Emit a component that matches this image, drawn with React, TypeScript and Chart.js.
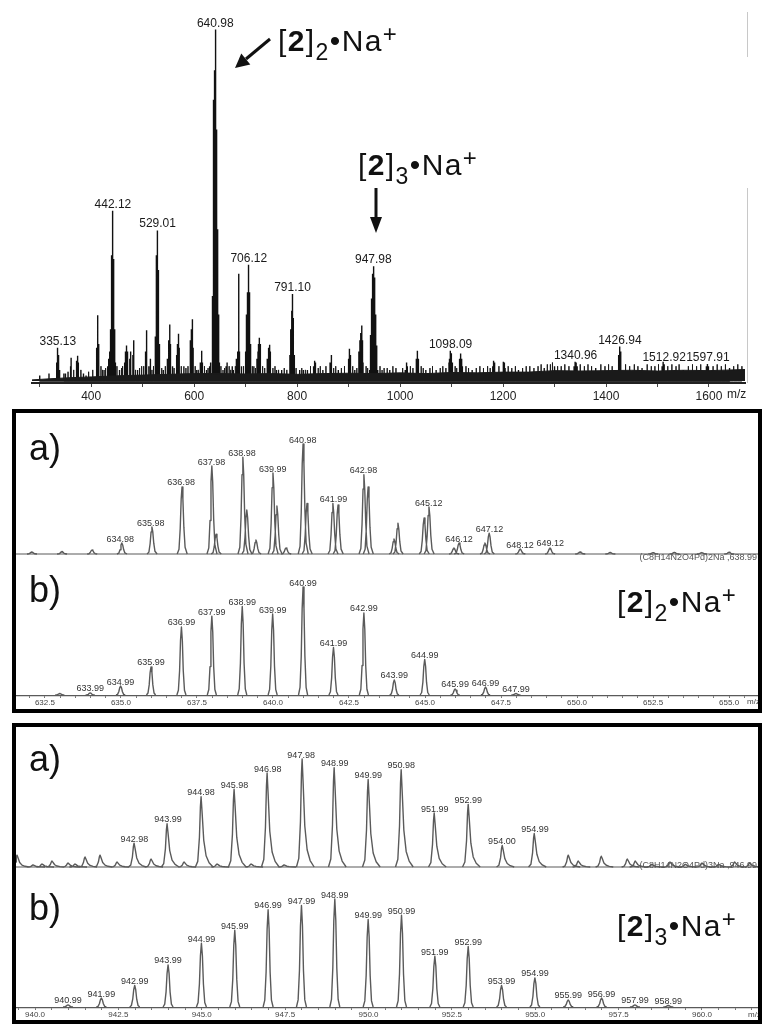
import React, { useEffect, useRef } from "react";
import { Chart, registerables } from "chart.js";

Chart.register(...registerables);

const FONT = "'Liberation Sans', Arial, Helvetica, sans-serif";

// ================= Survey ESI-MS spectrum (top) =================
const surveyMz = [
  300, 318, 333, 334, 335, 336, 337, 338, 339, 350, 360, 361, 371, 372, 373, 374, 375, 385, 390,
  410, 411, 412, 413, 414, 415, 425, 432, 434, 436, 437, 438, 439, 440, 441, 442, 443, 444, 445, 446, 447,
  455, 465, 466, 467, 468, 469, 470, 471, 475, 476, 477, 481, 482, 483, 490,
  505, 506, 507, 508, 512, 515, 524, 525, 526, 527, 528, 529, 530, 531, 532, 533, 540,
  548, 550, 551, 552, 553, 554, 558, 566, 567, 568, 569, 570, 571, 580,
  592, 593, 594, 595, 596, 597, 598, 605, 612, 614, 615, 616, 624, 630, 632,
  635, 636, 637, 638, 639, 640, 641, 642, 643, 644, 645, 646, 647, 648, 649,
  656, 662, 664, 674, 676, 682, 684, 685, 686, 687, 688, 692,
  700, 701, 702, 703, 704, 705, 706, 707, 708, 709, 710, 716,
  722, 724, 725, 726, 727, 728, 729, 742, 744, 745, 746, 747, 748, 760, 770,
  786, 787, 788, 789, 790, 791, 792, 793, 794, 795, 805, 812, 820,
  832, 834, 835, 836, 850, 864, 866, 867, 880, 900, 901, 902, 903, 904, 912,
  920, 922, 923, 924, 925, 926, 927, 928,
  941, 942, 943, 944, 945, 946, 947, 948, 949, 950, 951, 952, 953, 954, 955, 956, 957, 965, 980,
  1010, 1012, 1013, 1014, 1031, 1032, 1033, 1034, 1035, 1036, 1050, 1070,
  1095, 1096, 1097, 1098, 1099, 1100, 1101, 1102, 1115, 1116, 1117, 1118, 1119, 1120, 1121, 1140,
  1180, 1181, 1182, 1183, 1184, 1200, 1201, 1202, 1203, 1204, 1230, 1260, 1280, 1300,
  1338, 1340, 1342, 1344, 1380, 1424, 1425, 1426, 1427, 1428, 1429, 1470,
  1509, 1511, 1513, 1550, 1595, 1597, 1599, 1640,
];
const surveyIntensity = [
  1.5, 2, 5, 6, 9, 5, 7, 3, 2, 2, 4, 6.3, 4, 5.5, 6.8, 4, 5, 2, 1.5,
  6, 9, 12, 17.8, 10, 8, 3, 4, 6, 8, 10, 14, 20, 34, 30, 46, 26, 33, 10, 14, 5,
  3, 5, 7, 8, 9.6, 7, 8, 5, 6, 8, 7, 7, 11, 6, 3,
  6, 8, 13.7, 7, 4, 6, 8, 12, 20, 34, 28, 40.7, 25, 30, 8, 10, 3,
  6, 9, 11, 15.3, 9, 10, 4, 7, 9, 10, 12.8, 8, 9, 4,
  9, 11, 13, 14, 16.7, 12, 9, 3, 5, 6, 8.2, 5, 3, 4, 5,
  9.5, 23, 58, 76, 84, 70, 95, 44, 68, 27, 41, 9.5, 18, 5, 5,
  3, 4, 5, 4, 3, 6, 8, 8, 29, 8, 8, 4,
  8, 12, 18, 24, 22, 26, 31.4, 22, 24, 9, 10, 4,
  6, 8, 10, 11.7, 9, 10, 5, 6, 8, 9, 9.8, 7, 8, 3, 3,
  7, 10, 14, 17, 19, 23.5, 16, 17, 6, 7, 3, 3, 3,
  4, 5.5, 5, 4, 3, 5, 7, 5, 3, 6, 7, 8.7, 7, 6, 3,
  8, 11, 12, 13, 15, 12, 11, 5,
  3, 6.8, 12.4, 20, 22.3, 27, 29, 31, 28.5, 25, 28, 15.5, 18, 6.2, 9.6, 3, 3, 3, 3,
  3, 4, 5, 4, 4, 6, 7, 8.2, 6, 5, 3, 3,
  5, 6, 7, 8.2, 7, 7.5, 5, 5, 5, 6, 7, 7.4, 6, 6, 4, 3,
  4, 4.5, 5.5, 5, 4, 4, 5.2, 5, 4.5, 3.5, 3, 3.5, 3.5, 4,
  4, 5.2, 5, 4, 3.5, 6, 7, 8.5, 9.3, 8, 6, 3.5,
  4, 5.2, 4.5, 3, 4, 4.6, 4, 3.5,
];
// small background spikes ("grass") along the baseline
const surveyGrassMz = [
  347, 355, 366, 380, 395, 403, 419, 422, 428, 450, 459, 461, 486, 494, 498,
  502, 518, 521, 537, 544, 561, 575, 584, 588, 602, 608, 620, 627,
  652, 659, 668, 671, 680, 696, 713, 719, 733, 737, 753, 757, 764, 775, 780, 798,
  809, 816, 826, 841, 845, 856, 871, 875, 886, 892, 908, 916, 934, 937, 961, 969, 975, 986, 992,
  1005, 1020, 1025, 1041, 1045, 1058, 1063, 1078, 1083, 1089, 1107, 1110, 1128, 1133, 1148, 1155, 1162, 1170, 1175, 1192,
  1210, 1217, 1224, 1238, 1245, 1252, 1268, 1274, 1286, 1292, 1296, 1306, 1313, 1320, 1328, 1350, 1358, 1365, 1372, 1390,
  1398, 1405, 1412, 1438, 1446, 1455, 1462, 1480, 1488, 1495, 1502, 1520, 1528, 1536, 1542, 1560, 1568, 1576, 1584,
  1608, 1616, 1624, 1632, 1648, 1656, 1664,
];
const surveyGrassIntensity = [
  2, 2.5, 3, 3, 2.5, 3, 4, 3, 3.5, 4, 3.5, 4, 3, 3.5, 4,
  4, 3, 4, 3.5, 4, 3.5, 4, 3.5, 4, 4, 3, 4, 3.5,
  4, 3.5, 4, 3, 4, 4, 4, 3.5, 4, 3.5, 3.5, 4, 3, 3.5, 3, 3.5,
  3.5, 3, 4, 3.5, 4, 4, 3.5, 4, 3.5, 4, 4, 3.5, 4, 3.5, 4, 3.5, 3.5, 4, 3.5,
  3.5, 4, 3.5, 4, 3.5, 3.5, 4, 3.5, 4, 3.5, 4, 3.5, 4, 3.5, 3.5, 4, 3.5, 4, 3.5, 4,
  4, 3.5, 4, 3.5, 4, 4, 4, 4.5, 4.5, 4.5, 5, 4, 4, 4.5, 4, 4.5, 4, 4.5, 4, 4.5,
  4, 4.5, 4, 4.5, 4, 4.5, 4, 4.5, 4, 4, 4.5, 4, 4.5, 4, 4.5, 4, 4.5, 4, 4.5,
  4, 4.5, 4, 4.5, 4, 4.5, 4,
];
const surveyNoiseMz = [285, 320, 360, 400, 450, 500, 550, 600, 650, 700, 750, 800, 850, 900, 950, 1000, 1050, 1100, 1150, 1200, 1250, 1300, 1350, 1400, 1450, 1500, 1550, 1600, 1670];
const surveyNoiseLevel = [0.3, 0.6, 0.9, 1.1, 1.4, 1.6, 1.8, 2.0, 2.0, 1.9, 2.0, 1.8, 2.0, 2.1, 2.0, 2.2, 2.0, 2.3, 2.2, 2.4, 2.4, 2.8, 2.7, 2.8, 2.9, 2.7, 2.9, 2.8, 3.1];
const surveyLabelMz = [335.13, 442.12, 529.01, 640.98, 706.12, 791.1, 947.98, 1098.09, 1340.96, 1426.94, 1512.92, 1597.91];
const surveyTickValues = [300, 400, 500, 600, 700, 800, 900, 1000, 1100, 1200, 1300, 1400, 1500, 1600];
const surveyTickLabels = ["", "400", "", "600", "", "800", "", "1000", "", "1200", "", "1400", "", "1600"];

// ================= [2]2·Na+ : a) experimental, b) simulated =================
const dimerExpMz = [632.07, 633.06, 634.05, 635.03, 636.02, 637.01, 637.99, 638.13, 639.01, 639.14, 639.44, 640.0, 640.13, 640.43, 640.99, 641.12, 641.97, 642.14, 642.99, 643.13, 643.98, 644.11, 644.97, 645.13, 645.95, 646.12, 646.97, 647.11, 648.13, 649.11, 650.1, 651.09, 652.5, 653.2, 654.1, 655.0];
const dimerExpIntensity = [1.8, 2.3, 3.6, 10, 24.5, 61, 80, 18, 88, 40, 12.7, 73.6, 43.6, 5.5, 100, 46, 46, 44.5, 72, 61, 13.6, 28, 32.7, 42.7, 5.5, 10, 10, 19, 4.5, 5.5, 1.8, 1.4, 1.2, 1.5, 1.3, 1.6];
const dimerExpLabelMz = [634.98, 635.98, 636.98, 637.98, 638.98, 639.99, 640.98, 641.99, 642.98, 645.12, 646.12, 647.12, 648.12, 649.12];
const dimerSimMz = [632.99, 633.99, 634.99, 635.99, 636.99, 637.99, 638.99, 639.99, 640.99, 641.99, 642.99, 643.99, 644.99, 645.99, 646.99, 647.99];
const dimerSimIntensity = [1.4, 1.9, 8.3, 26, 63, 73, 82, 75, 100, 44, 76, 14, 33, 5.6, 7.4, 1.4];
const dimerSimLabelMz = [633.99, 634.99, 635.99, 636.99, 637.99, 638.99, 639.99, 640.99, 641.99, 642.99, 643.99, 644.99, 645.99, 646.99, 647.99];
const dimerTickLabels = ["632.5", "635.0", "637.5", "640.0", "642.5", "645.0", "647.5", "650.0", "652.5", "655.0"];
const dimerFormula = "(C8H14N2O4Pd)2Na ,638.99";

// ================= [2]3·Na+ : a) experimental, b) simulated =================
const trimerExpMz = [939.46, 939.94, 940.21, 940.51, 940.99, 941.2, 941.5, 941.95, 942.46, 942.97, 943.48, 943.96, 944.47, 944.98, 945.46, 945.97, 946.48, 946.96, 947.47, 948.01, 948.97, 949.99, 950.98, 951.97, 952.99, 954.01, 954.97, 955.99, 956.29, 956.98, 957.76, 958.0, 958.5, 959.04, 959.5, 960.0, 960.5, 960.98, 961.43];
const trimerExpIntensity = [11, 1.9, 2.8, 5.5, 3.7, 2.8, 9.3, 11, 4.6, 22, 7.4, 40, 4.6, 65, 2.8, 72, 2.8, 87, 1.9, 100, 92, 81, 90, 50, 58, 20, 31, 11, 5.5, 10, 7.4, 5.5, 2.5, 4.6, 2.5, 3.7, 2.5, 4.6, 3.7];
const trimerExpLabelMz = [942.98, 943.99, 944.98, 945.98, 946.98, 947.98, 948.99, 949.99, 950.98, 951.99, 952.99, 954.0, 954.99];
const trimerSimMz = [940.99, 941.99, 942.99, 943.99, 944.99, 945.99, 946.99, 947.99, 948.99, 949.99, 950.99, 951.99, 952.99, 953.99, 954.99, 955.99, 956.99, 957.99, 958.99];
const trimerSimIntensity = [1.9, 8.3, 20, 39, 59, 71, 90, 94, 100, 81, 85, 47, 56, 20, 27, 6.5, 8.3, 1.9, 1.4];
const trimerSimLabelMz = trimerSimMz;
const trimerTickLabels = ["940.0", "942.5", "945.0", "947.5", "950.0", "952.5", "955.0", "957.5", "960.0"];
const trimerFormula = "(C8H14N2O4Pd)3Na ,946.99";

// ================= layout / style constants =================
const SURVEY_RANGE = [285, 1670];
const DIMER_RANGE = [631.55, 655.95];
const TRIMER_RANGE = [939.43, 961.68];
const TRACE = "#5a5a5a";

// peak line shapes (offset in m/z, fraction of apex)
const SIM_SHAPE = { dx: [-0.15, -0.1, -0.06, -0.03, 0, 0.03, 0.06, 0.1, 0.15], fr: [0, 0.07, 0.36, 0.8, 1, 0.8, 0.36, 0.07, 0] };
const EXP1_SHAPE = { dx: [-0.16, -0.1, -0.06, -0.028, 0, 0.028, 0.06, 0.1, 0.17], fr: [0, 0.07, 0.38, 0.82, 1, 0.82, 0.4, 0.1, 0] };
const EXP2_SHAPE = { dx: [-0.17, -0.1, -0.05, -0.02, 0, 0.03, 0.08, 0.15, 0.24, 0.36], fr: [0, 0.08, 0.42, 0.86, 1, 0.78, 0.38, 0.16, 0.06, 0] };

function sticks(mz: number[], inten: number[]) {
  return mz.flatMap((m, i) => [{ x: m, y: 0 }, { x: m, y: inten[i] }, { x: m, y: 0 }]);
}

function peakProfile(mz: number[], inten: number[], shape: { dx: number[]; fr: number[] }) {
  const pts: any[] = [];
  mz.forEach((m, i) => {
    shape.dx.forEach((d, j) => pts.push({ x: m + d, y: inten[i] * shape.fr[j] }));
    pts.push({ x: m, y: null });
  });
  return pts;
}

// y range such that value 0 sits at baselinePx and value 100 at fullPx
function yRange(chartTop: number, chartBottom: number, baselinePx: number, fullPx: number) {
  const k = 100 / (baselinePx - fullPx);
  return [-(chartBottom - baselinePx) * k, (baselinePx - chartTop) * k];
}

function stepTicks(min: number, max: number, step: number) {
  const out: number[] = [];
  for (let v = Math.ceil(min / step) * step; v <= max + 1e-9; v += step) out.push(+v.toFixed(4));
  return out;
}

function labelPlugin(labelMz: number[], peakMz: number[], peakInt: number[], win: number, size: number, color: string, gap: number) {
  return {
    id: "peakLabels",
    afterDatasetsDraw(chart: any) {
      const { ctx } = chart;
      const xs = chart.scales.x;
      const ys = chart.scales.y;
      ctx.save();
      ctx.font = `${size}px ${FONT}`;
      ctx.fillStyle = color;
      ctx.textAlign = "center";
      ctx.textBaseline = "alphabetic";
      labelMz.forEach((m) => {
        let h = 0;
        peakMz.forEach((p, i) => {
          if (Math.abs(p - m) <= win && peakInt[i] > h) h = peakInt[i];
        });
        ctx.fillText(m.toFixed(2), xs.getPixelForValue(m), ys.getPixelForValue(h) - gap);
      });
      ctx.restore();
    },
  };
}

function baseOptions() {
  return {
    animation: false,
    responsive: false,
    maintainAspectRatio: false,
    events: [],
    plugins: { legend: { display: false }, tooltip: { enabled: false }, title: { display: false } },
    elements: { point: { radius: 0 }, line: { tension: 0 } },
  };
}

function buildSurvey(): any {
  const [yMin, yMax] = yRange(12, 383, 381, 11);
  return {
    type: "line",
    data: {
      datasets: [
        {
          data: surveyNoiseMz.map((m, i) => ({ x: m, y: surveyNoiseLevel[i] })),
          borderColor: "#1a1a1a",
          backgroundColor: "#1a1a1a",
          borderWidth: 1,
          fill: "origin",
          pointRadius: 0,
        },
        {
          data: sticks(surveyGrassMz, surveyGrassIntensity),
          borderColor: "#1a1a1a",
          borderWidth: 1,
          borderJoinStyle: "bevel",
          fill: false,
          pointRadius: 0,
        },
        {
          data: sticks(surveyMz, surveyIntensity),
          borderColor: "#111",
          borderWidth: 1.4,
          borderJoinStyle: "bevel",
          fill: false,
          pointRadius: 0,
        },
      ],
    },
    options: {
      ...baseOptions(),
      layout: { padding: { left: 32, right: 38, top: 12, bottom: 0 } },
      scales: {
        x: {
          type: "linear",
          bounds: "data",
          min: SURVEY_RANGE[0],
          max: SURVEY_RANGE[1],
          afterBuildTicks: (s: any) => { s.ticks = surveyTickValues.map((v) => ({ value: v })); },
          afterFit: (s: any) => { s.height = 22; s.paddingLeft = 0; s.paddingRight = 0; },
          ticks: {
            autoSkip: false, maxRotation: 0, minRotation: 0, padding: 2, color: "#222",
            font: { family: FONT, size: 12 },
            callback: (_v: any, i: number) => surveyTickLabels[i],
          },
          grid: { display: true, drawOnChartArea: false, drawTicks: true, tickLength: 4, color: "#444" },
          border: { display: true, color: "#222", width: 2 },
        },
        y: { display: false, bounds: "data", min: yMin, max: yMax },
      },
    },
    plugins: [labelPlugin(surveyLabelMz, surveyMz, surveyIntensity, 1.2, 12, "#1a1a1a", 3)],
  };
}

function buildPanel(p: {
  mz: number[]; inten: number[]; shape: any; labels: number[]; range: number[]; yr: number[];
  axis?: { height: number; tickLabels: string[] }; baseline?: boolean;
}): any {
  const datasets: any[] = [];
  if (p.baseline) {
    datasets.push({ data: [{ x: p.range[0], y: 0 }, { x: p.range[1], y: 0 }], borderColor: TRACE, borderWidth: 1.2, pointRadius: 0 });
  }
  datasets.push({ data: peakProfile(p.mz, p.inten, p.shape), borderColor: TRACE, borderWidth: 1.4, pointRadius: 0, spanGaps: false, borderJoinStyle: "round" });
  const xScale: any = p.axis
    ? {
        type: "linear", bounds: "data", min: p.range[0], max: p.range[1],
        afterBuildTicks: (s: any) => { s.ticks = stepTicks(p.range[0], p.range[1], 0.5).map((v) => ({ value: v })); },
        afterFit: (s: any) => { s.height = p.axis!.height; s.paddingLeft = 0; s.paddingRight = 0; },
        ticks: {
          autoSkip: false, maxRotation: 0, minRotation: 0, padding: 0, color: "#444",
          font: { family: FONT, size: 8 },
          callback: (v: any) => p.axis!.tickLabels.find((l) => Math.abs(parseFloat(l) - v) < 1e-6) ?? "",
        },
        grid: { display: true, drawOnChartArea: false, drawTicks: true, tickLength: 2, color: "#777" },
        border: { display: true, color: TRACE, width: 1.2 },
      }
    : { type: "linear", display: false, bounds: "data", min: p.range[0], max: p.range[1] };
  return {
    type: "line",
    data: { datasets },
    options: {
      ...baseOptions(),
      layout: { padding: 0 },
      scales: { x: xScale, y: { display: false, bounds: "data", min: p.yr[0], max: p.yr[1] } },
    },
    plugins: [labelPlugin(p.labels, p.mz, p.inten, 0.2, 9, "#333", 1.5)],
  };
}

function ChartCanvas({ left, top, width, height, build }: { left: number; top: number; width: number; height: number; build: () => any }) {
  const ref = useRef<HTMLCanvasElement>(null);
  useEffect(() => {
    const chart = new Chart(ref.current as HTMLCanvasElement, build());
    return () => chart.destroy();
  }, []);
  return <canvas ref={ref} width={width} height={height} style={{ position: "absolute", left, top, width, height }} />;
}

function IonLabel({ n, left, top }: { n: string; left: number; top: number }) {
  return (
    <div style={{ position: "absolute", left, top, fontFamily: FONT, fontSize: 30, lineHeight: "30px", letterSpacing: "1.4px", color: "#111", whiteSpace: "nowrap" }}>
      [<b>2</b>]<span style={{ fontSize: 23, position: "relative", top: 9 }}>{n}</span>•Na<span style={{ fontSize: 24, position: "relative", top: -9 }}>+</span>
    </div>
  );
}

function Tag({ text, left, top }: { text: string; left: number; top: number }) {
  return <div style={{ position: "absolute", left, top, fontFamily: FONT, fontSize: 36, lineHeight: "36px", color: "#111" }}>{text}</div>;
}

function Small({ text, left, right, top, size, color }: { text: string; left?: number; right?: number; top: number; size: number; color: string }) {
  return (
    <div style={{ position: "absolute", left, right, top, fontFamily: FONT, fontSize: size, lineHeight: `${size + 1}px`, color, whiteSpace: "nowrap" }}>
      {text}
    </div>
  );
}

export default function App() {
  return (
    <div style={{ position: "absolute", left: 0, top: 0, width: 783, height: 1030, background: "#fff", overflow: "hidden" }}>
      {/* survey spectrum */}
      <ChartCanvas left={0} top={0} width={783} height={405} build={buildSurvey} />
      <div style={{ position: "absolute", left: 747, top: 12, width: 1, height: 45, background: "#c8c8c8" }} />
      <div style={{ position: "absolute", left: 747, top: 188, width: 1, height: 195, background: "#c8c8c8" }} />
      <Small text="m/z" left={727} top={388} size={12} color="#222" />
      <svg width={783} height={240} style={{ position: "absolute", left: 0, top: 0 }}>
        <line x1={270} y1={39} x2={246} y2={59} stroke="#111" strokeWidth={3} />
        <polygon points="235,68 250.3,64.4 241.3,53.6" fill="#111" />
        <line x1={376} y1={188} x2={376} y2={220} stroke="#111" strokeWidth={3} />
        <polygon points="370,217 382,217 376,233" fill="#111" />
      </svg>
      <IonLabel n="2" left={278} top={26} />
      <IonLabel n="3" left={358} top={150} />

      {/* [2]2·Na+ panel */}
      <ChartCanvas
        left={16} top={413} width={742} height={145}
        build={() => buildPanel({ mz: dimerExpMz, inten: dimerExpIntensity, shape: EXP1_SHAPE, labels: dimerExpLabelMz, range: DIMER_RANGE, yr: yRange(413, 558, 554, 444), baseline: true })}
      />
      <ChartCanvas
        left={16} top={560} width={742} height={149}
        build={() => buildPanel({ mz: dimerSimMz, inten: dimerSimIntensity, shape: SIM_SHAPE, labels: dimerSimLabelMz, range: DIMER_RANGE, yr: yRange(560, 696, 695, 587), axis: { height: 13, tickLabels: dimerTickLabels } })}
      />
      <Tag text="a)" left={29} top={430} />
      <Tag text="b)" left={29} top={572} />
      <Small text={dimerFormula} right={26} top={552} size={9} color="#555" />
      <Small text="m/z" left={747} top={697} size={8} color="#444" />
      <IonLabel n="2" left={617} top={587} />

      {/* [2]3·Na+ panel */}
      <ChartCanvas
        left={16} top={727} width={742} height={143}
        build={() => buildPanel({ mz: trimerExpMz, inten: trimerExpIntensity, shape: EXP2_SHAPE, labels: trimerExpLabelMz, range: TRIMER_RANGE, yr: yRange(727, 870, 867, 759), baseline: true })}
      />
      <ChartCanvas
        left={16} top={872} width={742} height={148}
        build={() => buildPanel({ mz: trimerSimMz, inten: trimerSimIntensity, shape: SIM_SHAPE, labels: trimerSimLabelMz, range: TRIMER_RANGE, yr: yRange(872, 1008, 1007, 899), axis: { height: 12, tickLabels: trimerTickLabels } })}
      />
      <Tag text="a)" left={29} top={741} />
      <Tag text="b)" left={29} top={890} />
      <Small text={trimerFormula} right={26} top={860} size={9} color="#555" />
      <Small text="m/z" left={748} top={1010} size={8} color="#444" />
      <IonLabel n="3" left={617} top={911} />

      {/* panel frames */}
      <div style={{ position: "absolute", left: 12, top: 409, width: 750, height: 304, border: "4px solid #000", boxSizing: "border-box" }} />
      <div style={{ position: "absolute", left: 12, top: 723, width: 750, height: 301, border: "4px solid #000", boxSizing: "border-box" }} />
    </div>
  );
}
